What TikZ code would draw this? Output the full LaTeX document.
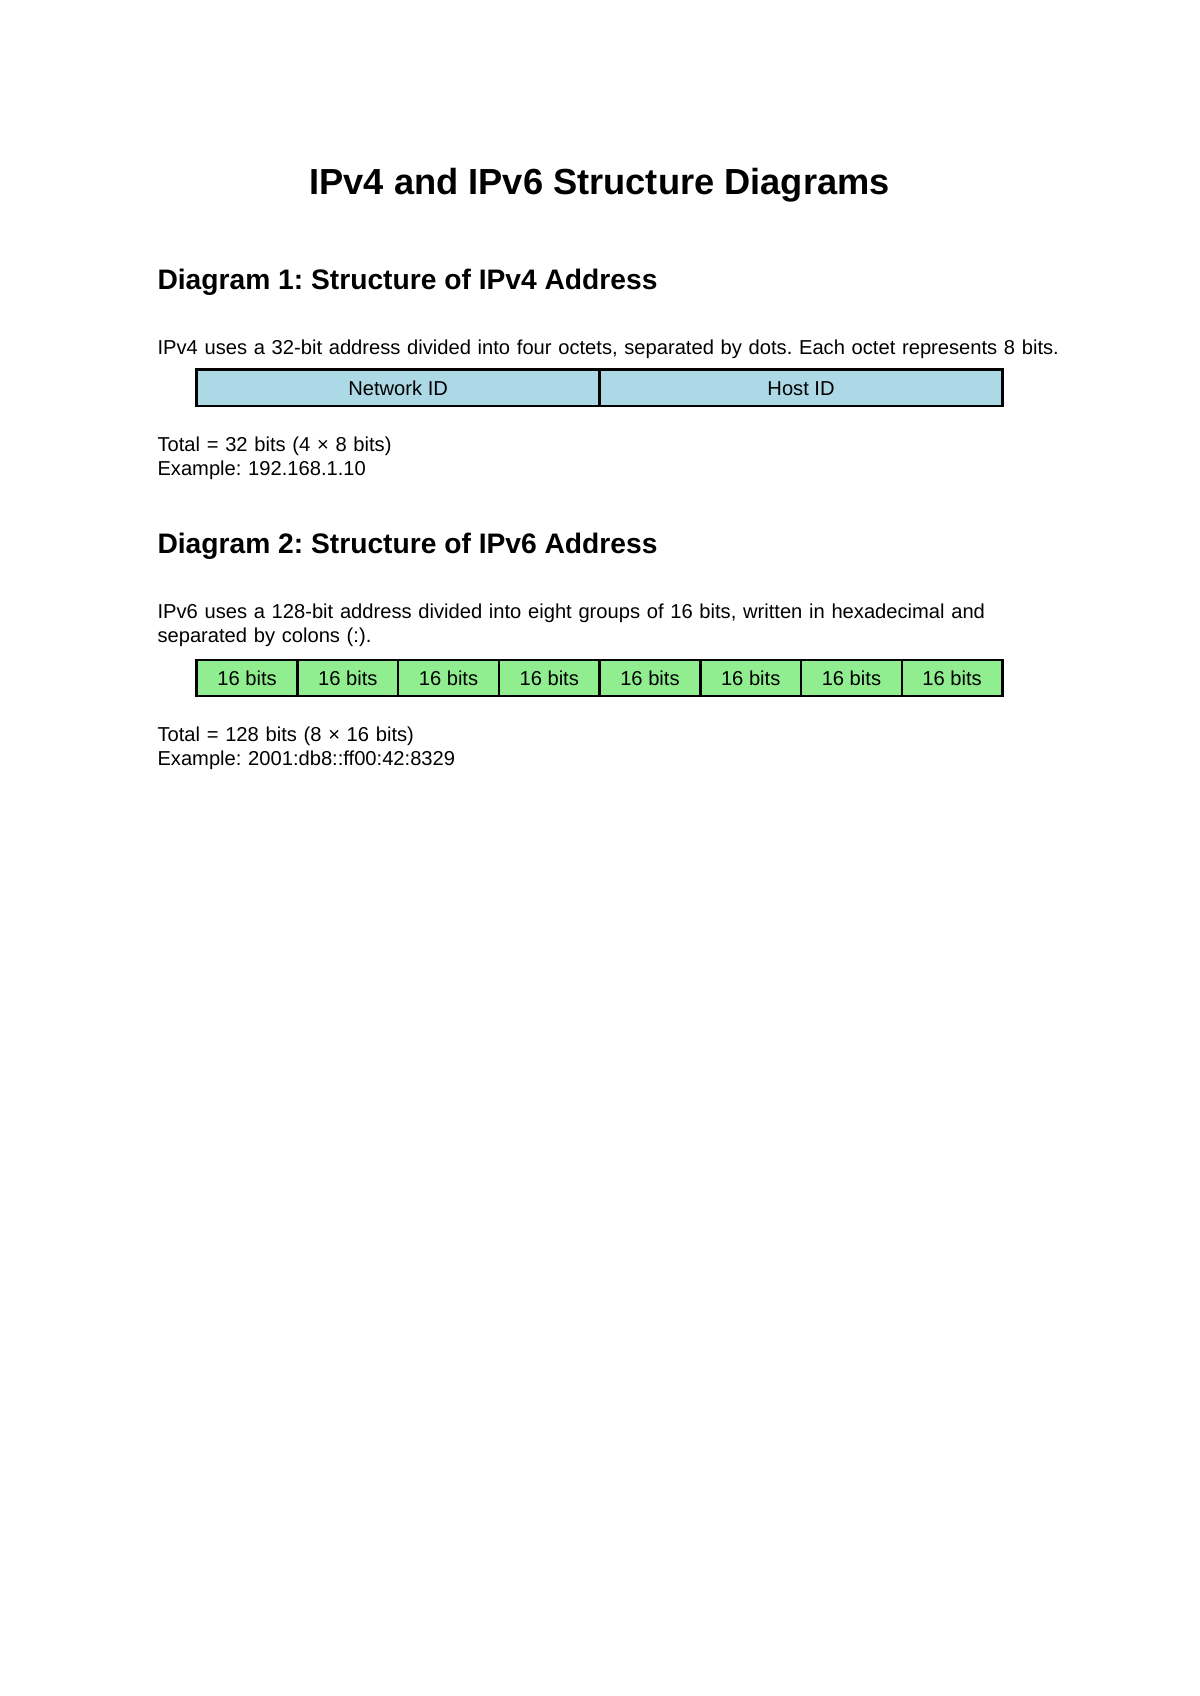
\documentclass[tikz,border=0pt]{standalone}
\usepackage{fontspec}
\setmainfont{Liberation Sans}
\usetikzlibrary{positioning}
\definecolor{netblue}{RGB}{173,216,230}
\definecolor{groupgreen}{RGB}{144,238,144}
\frenchspacing
\tikzset{
  field/.style={draw,line width=1.2pt,inner sep=0pt,outer sep=0pt,
    minimum height=18pt,text height=8pt,text depth=0pt,
    font=\fontsize{10}{12}\selectfont},
  body/.style={anchor=base west,inner sep=0pt,text width=460pt,align=left,
    font=\fontsize{10}{12}\selectfont},
  heading/.style={anchor=base west,inner sep=0pt,font=\fontsize{14}{18}\selectfont\bfseries},
  doctitle/.style={anchor=base,inner sep=0pt,font=\fontsize{18}{22}\selectfont\bfseries}
}
\begin{document}
\begin{tikzpicture}[x=1pt,y=1pt]
\fill[white] (0,0) rectangle (595.28,-841.89);
\node [doctitle] (title) at (297.64,-96.8) {IPv4 and IPv6 Structure Diagrams};
% IPv4: two fields of 16 bits
\node [heading] (ipv4 heading) at (78,-143.6) {Diagram 1: Structure of IPv4 Address};
\node [body] (ipv4 text) at (78,-176) {IPv4 uses a 32-bit address divided into four octets, separated by dots. Each octet represents 8 bits.};
\node [field,fill=netblue,minimum width=200pt] (network id) at (197.64,-192.5) {Network ID};
\node [field,fill=netblue,minimum width=200pt,right=0pt of network id] (host id) {Host ID};
\node [body] (ipv4 total) at (78,-224) {Total = 32 bits (4 × 8 bits)\\Example: 192.168.1.10};
% IPv6: eight groups
\node [heading] (ipv6 heading) at (78,-275) {Diagram 2: Structure of IPv6 Address};
\node [body] (ipv6 text) at (78,-307) {IPv6 uses a 128-bit address divided into eight groups of 16 bits, written in hexadecimal and\\separated by colons (:).};
\foreach \g in {1,...,8}
{
\node [field,fill=groupgreen,minimum width=50pt] (group \g) at ({72.64+\g*50},-336.5) {16 bits};
}
\node [body] (ipv6 total) at (78,-368) {Total = 128 bits (8 × 16 bits)\\Example: 2001:db8::ff00:42:8329};
\end{tikzpicture}
\end{document}
